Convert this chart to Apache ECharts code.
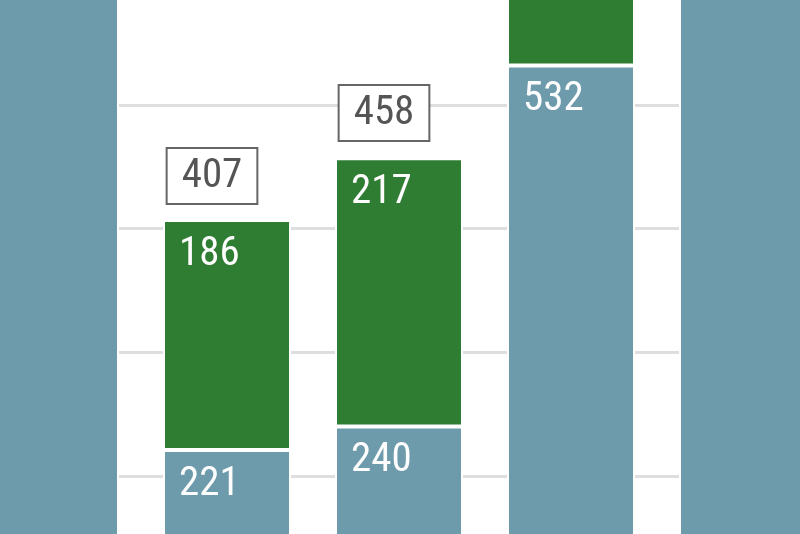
<!DOCTYPE html>
<html>
<head>
<meta charset="utf-8">
<script src="https://cdn.jsdelivr.net/npm/echarts@6/dist/echarts.min.js"></script>
<style>
html,body{margin:0;padding:0;background:#fff;width:800px;height:534px;overflow:hidden;position:relative;}
#c{position:absolute;left:-31px;top:-142px;width:860px;height:865px;}
</style>
</head>
<body>
<div id="c"></div>
<script>
const categories = ['c1', 'c2', 'c3', 'c4', 'c5'];
const baseValues = [655, 221, 240, 532, 660];
const topValues = [210, 186, 217, 250, 220];
const totalValues = [865, 407, 458, 782, 880];
const yTicks = [0, 100, 200, 300, 400, 500, 600, 700];

const BLUE = '#6d9bac';
const GREEN = '#2e7d32';
const FONT = "'Liberation Sans Narrow', 'Roboto Condensed', 'DejaVu Sans Condensed', sans-serif";

const chart = echarts.init(document.getElementById('c'), null, {renderer: 'canvas'});
const innerLabel = {
  show: true,
  position: 'insideTopLeft',
  distance: 14,
  offset: [2, 0],
  color: '#fdfdfd',
  fontFamily: FONT,
  fontSize: 41
};
chart.setOption({
  backgroundColor: '#ffffff',
  animation: false,
  grid: {left: 0, right: 0, top: 0, bottom: 0, containLabel: false},
  xAxis: {
    type: 'category',
    data: categories,
    axisLine: {show: false},
    axisTick: {show: false},
    axisLabel: {show: false},
    splitLine: {show: false}
  },
  yAxis: {
    type: 'value',
    min: yTicks[0],
    max: yTicks[yTicks.length - 1],
    interval: yTicks[1] - yTicks[0],
    axisLine: {show: false},
    axisTick: {show: false},
    axisLabel: {show: false},
    splitLine: {show: true, lineStyle: {color: '#dedede', width: 3}}
  },
  series: [
    {
      name: 'base',
      type: 'bar',
      stack: 's',
      barWidth: 128,
      data: baseValues,
      itemStyle: {color: BLUE, borderColor: '#ffffff', borderWidth: 2},
      label: innerLabel
    },
    {
      name: 'top',
      type: 'bar',
      stack: 's',
      barWidth: 128,
      data: topValues,
      itemStyle: {color: GREEN, borderColor: '#ffffff', borderWidth: 2},
      label: innerLabel
    },
    {
      name: 'total',
      type: 'bar',
      barWidth: 128,
      barGap: '-100%',
      data: totalValues,
      itemStyle: {color: 'rgba(0,0,0,0)', borderWidth: 0},
      z: 1,
      label: {
        show: true,
        position: 'top',
        distance: 17,
        offset: [-15, 0],
        color: '#555555',
        fontFamily: FONT,
        fontSize: 41,
        lineHeight: 42,
        backgroundColor: '#ffffff',
        borderColor: '#666666',
        borderWidth: 2,
        padding: [7, 14, 5, 14]
      }
    }
  ]
});
</script>
</body>
</html>
